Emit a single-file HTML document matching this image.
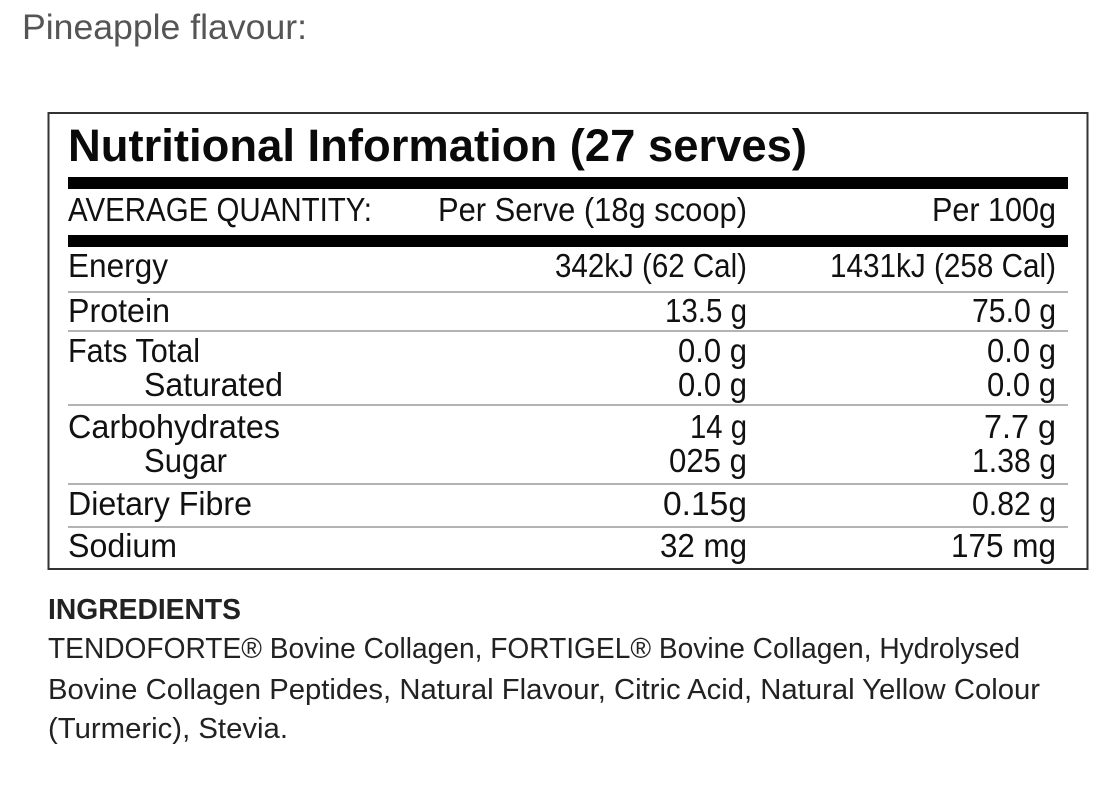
<!DOCTYPE html>
<html>
<head>
<meta charset="utf-8">
<style>
  html,body{margin:0;padding:0;background:#fff;}
  svg{display:block;}
  text{font-family:"Liberation Sans",Arial,sans-serif;}
</style>
</head>
<body>
<svg width="1120" height="800" viewBox="0 0 1120 800" xmlns="http://www.w3.org/2000/svg">
  <rect x="0" y="0" width="1120" height="800" fill="#fff"/>

  <!-- heading -->
  <text x="22" y="39" font-size="35" fill="#555" textLength="285" lengthAdjust="spacingAndGlyphs">Pineapple flavour:</text>

  <!-- box -->
  <rect x="48.5" y="113" width="1039" height="456" fill="none" stroke="#333" stroke-width="2"/>

  <!-- title -->
  <text x="68" y="161" font-size="45" font-weight="bold" fill="#0a0a0a" textLength="739" lengthAdjust="spacingAndGlyphs">Nutritional Information (27 serves)</text>

  <!-- thick bars -->
  <rect x="68" y="177" width="1000" height="12" fill="#000"/>
  <rect x="68" y="235" width="1000" height="12" fill="#000"/>

  <!-- header row -->
  <g font-size="33" fill="#111">
    <text x="68" y="221" textLength="304" lengthAdjust="spacingAndGlyphs">AVERAGE QUANTITY:</text>
    <text x="438" y="221" textLength="309" lengthAdjust="spacingAndGlyphs">Per Serve (18g scoop)</text>
    <text x="1056" y="221" text-anchor="end" textLength="124" lengthAdjust="spacingAndGlyphs">Per 100g</text>
  </g>

  <!-- thin separators -->
  <g stroke="#9a9a9a" stroke-width="1.5">
    <line x1="68" y1="292" x2="1068" y2="292"/>
    <line x1="68" y1="331" x2="1068" y2="331"/>
    <line x1="68" y1="405" x2="1068" y2="405"/>
    <line x1="68" y1="484" x2="1068" y2="484"/>
    <line x1="68" y1="527" x2="1068" y2="527"/>
  </g>

  <!-- labels -->
  <g font-size="33" fill="#111">
    <text x="68" y="277" textLength="100" lengthAdjust="spacingAndGlyphs">Energy</text>
    <text x="68" y="322" textLength="102" lengthAdjust="spacingAndGlyphs">Protein</text>
    <text x="68" y="362" textLength="132" lengthAdjust="spacingAndGlyphs">Fats Total</text>
    <text x="144" y="396" textLength="139" lengthAdjust="spacingAndGlyphs">Saturated</text>
    <text x="68" y="438" textLength="212" lengthAdjust="spacingAndGlyphs">Carbohydrates</text>
    <text x="144" y="472" textLength="83" lengthAdjust="spacingAndGlyphs">Sugar</text>
    <text x="68" y="515" textLength="184" lengthAdjust="spacingAndGlyphs">Dietary Fibre</text>
    <text x="68" y="557" textLength="109" lengthAdjust="spacingAndGlyphs">Sodium</text>
  </g>

  <!-- per serve values -->
  <g font-size="33" fill="#111" text-anchor="end">
    <text x="747" y="277" textLength="192" lengthAdjust="spacingAndGlyphs">342kJ (62 Cal)</text>
    <text x="747" y="322" textLength="82" lengthAdjust="spacingAndGlyphs">13.5 g</text>
    <text x="747" y="362" textLength="69" lengthAdjust="spacingAndGlyphs">0.0 g</text>
    <text x="747" y="396" textLength="69" lengthAdjust="spacingAndGlyphs">0.0 g</text>
    <text x="747" y="438" textLength="57" lengthAdjust="spacingAndGlyphs">14 g</text>
    <text x="747" y="472" textLength="78" lengthAdjust="spacingAndGlyphs">025 g</text>
    <text x="747" y="515" textLength="84" lengthAdjust="spacingAndGlyphs">0.15g</text>
    <text x="747" y="557" textLength="87" lengthAdjust="spacingAndGlyphs">32 mg</text>
  </g>

  <!-- per 100g values -->
  <g font-size="33" fill="#111" text-anchor="end">
    <text x="1056" y="277" textLength="226" lengthAdjust="spacingAndGlyphs">1431kJ (258 Cal)</text>
    <text x="1056" y="322" textLength="84" lengthAdjust="spacingAndGlyphs">75.0 g</text>
    <text x="1056" y="362" textLength="69" lengthAdjust="spacingAndGlyphs">0.0 g</text>
    <text x="1056" y="396" textLength="69" lengthAdjust="spacingAndGlyphs">0.0 g</text>
    <text x="1056" y="438" textLength="72" lengthAdjust="spacingAndGlyphs">7.7 g</text>
    <text x="1056" y="472" textLength="84" lengthAdjust="spacingAndGlyphs">1.38 g</text>
    <text x="1056" y="515" textLength="84" lengthAdjust="spacingAndGlyphs">0.82 g</text>
    <text x="1056" y="557" textLength="105" lengthAdjust="spacingAndGlyphs">175 mg</text>
  </g>

  <!-- ingredients -->
  <text x="48" y="619" font-size="29" font-weight="bold" fill="#222" textLength="193" lengthAdjust="spacingAndGlyphs">INGREDIENTS</text>
  <g font-size="29" fill="#222">
    <text x="48" y="658" textLength="972" lengthAdjust="spacingAndGlyphs">TENDOFORTE® Bovine Collagen, FORTIGEL® Bovine Collagen, Hydrolysed</text>
    <text x="48" y="699" textLength="992" lengthAdjust="spacingAndGlyphs">Bovine Collagen Peptides, Natural Flavour, Citric Acid, Natural Yellow Colour</text>
    <text x="48" y="738" textLength="240" lengthAdjust="spacingAndGlyphs">(Turmeric), Stevia.</text>
  </g>
</svg>
</body>
</html>
